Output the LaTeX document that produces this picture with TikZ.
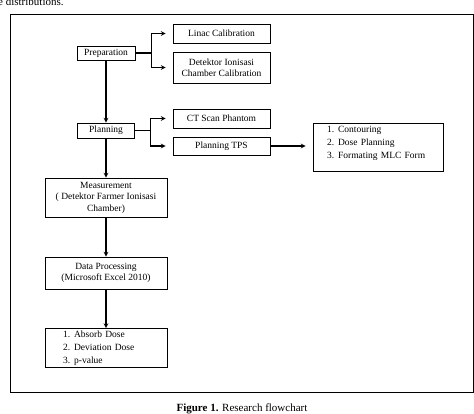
\documentclass[tikz,border=0pt]{standalone}
\usepackage{fontspec}
\setmainfont{Liberation Serif}
\tikzset{
  frame/.style={
    draw=black,
    line width=0.8pt
  },
  box/.style={
    draw=black,
    line width=0.8pt,
    align=center,
    inner sep=0pt,
    font=\fontsize{9.5}{11.5}\selectfont
  },
  flow/.style={
    line width=1.1pt,
    ->,
    >=stealth
  },
  branch/.style={
    flow,
    shorten >=7pt
  },
}

\begin{document}
\begin{tikzpicture}[x=1pt,y=-1pt]

  \useasboundingbox (0,0) rectangle (474,413);

  \def\XMAIN{106}
  \def\XSIDE{221.5}
  \def\WMAIN{122pt}
  \def\WSIDE{97pt}

  % text above and frame
  \node[anchor=base west, inner sep=0pt, font=\fontsize{11}{13}\selectfont] (above) at (-2,5) {e distributions.};
  \draw[frame] (10,14) rectangle (473,392);

  % main column
  \node[box, minimum width=58pt, minimum height=14pt] (prep) at (\XMAIN,53) {Preparation};
  \node[box, minimum width=57pt, minimum height=15pt] (plan) at (\XMAIN,130.5) {Planning};
  \node[box, minimum width=\WMAIN, minimum height=39pt] (meas) at (\XMAIN,197.5) {Measurement\\( Detektor Farmer Ionisasi\\Chamber)};
  \node[box, minimum width=\WMAIN, minimum height=32pt] (proc) at (\XMAIN,273) {Data Processing\\(Microsoft Excel 2010)};
  \node[box, minimum width=\WMAIN, minimum height=39pt, text width=86pt, inner xsep=18pt, align=left] (result) at (\XMAIN,348) {%
    \renewcommand{\arraystretch}{1.1}%
    \begin{tabular}{@{}l@{\hspace{4pt}}l@{}}1.&Absorb Dose\\2.&Deviation Dose\\3.&p-value\end{tabular}};

  % side column
  \node[box, minimum width=\WSIDE, minimum height=19pt] (linac) at (\XSIDE,33.5) {Linac Calibration};
  \node[box, minimum width=\WSIDE, minimum height=31pt] (detcal) at (\XSIDE,67.5) {Detektor Ionisasi\\Chamber Calibration};
  \node[box, minimum width=\WSIDE, minimum height=19pt] (ct) at (\XSIDE,118.5) {CT Scan Phantom};
  \node[box, minimum width=\WSIDE, minimum height=18pt] (tps) at (\XSIDE,146) {Planning TPS};
  \node[box, minimum width=130pt, minimum height=48pt, text width=102pt, inner xsep=14pt, align=left] (steps) at (378,147) {%
    \renewcommand{\arraystretch}{1.1}%
    \begin{tabular}{@{}l@{\hspace{4pt}}l@{}}1.&Contouring\\2.&Dose Planning\\3.&Formating MLC Form\\[8pt]\end{tabular}};

  % branches
  \draw[branch] (prep.east) -- ++(16,0) |- (linac.west);
  \draw[branch] (prep.east) -- ++(16,0) |- (detcal.west);
  \draw[branch] (plan.east) -- ++(16,0) |- (ct.west);
  \draw[branch] (plan.east) -- ++(16,0) |- (tps.west);
  \draw[branch] (tps.east) -- (tps.east -| steps.west);

  % main flow
  \draw[flow] (prep) -- (plan);
  \draw[flow] (plan) -- (meas);
  \draw[flow] (meas) -- (proc);
  \draw[flow] (proc) -- (result);

  % caption
  \node[anchor=base, inner sep=0pt, font=\fontsize{11}{13}\selectfont] (caption) at (242,411) {\textbf{Figure 1.} Research flowchart};

\end{tikzpicture}
\end{document}
